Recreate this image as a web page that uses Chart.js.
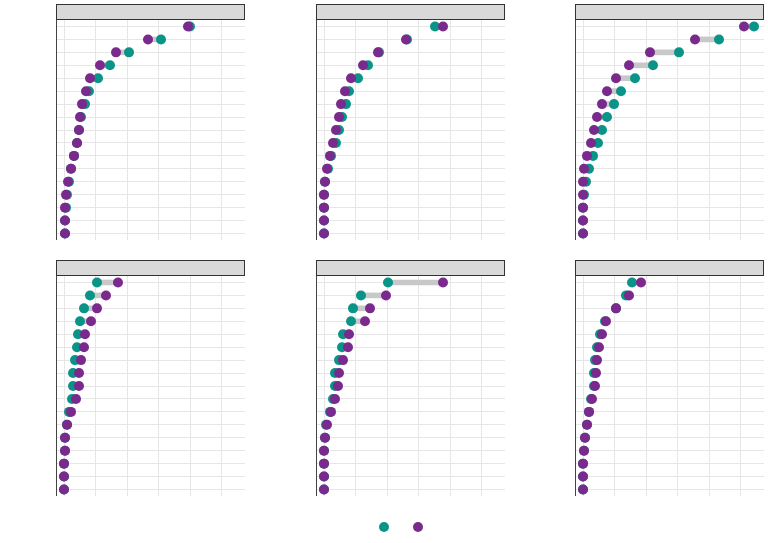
<!DOCTYPE html>
<html><head><meta charset="utf-8">
<script src="https://cdn.jsdelivr.net/npm/chart.js@4/dist/chart.umd.min.js"></script>
<style>
body{margin:0;background:#fff;width:768px;height:543px;position:relative;font-family:"Liberation Sans",sans-serif}
.panel{position:absolute;width:189px;height:236px}
.strip{background:#d9d9d9;border:1px solid #333;box-sizing:border-box;height:16px}
.plot{position:relative;width:189px;height:220px}
.dot{position:absolute;width:10px;height:10px;border-radius:5px}
</style></head><body>
<script>
// horizontal offsets of each dot (px units of the original panel, 0 = first gridline)
const rows = ["r1","r2","r3","r4","r5","r6","r7","r8","r9","r10","r11","r12","r13","r14","r15","r16","r17"];
const teal1 = [126,97,65,46,34,25,21,17,15,13,10,7,5,3,2,1,1];
const purple1 = [124,84,52,36,26,22,18,16,15,13,10,7,4,2,1,1,1];
const teal2 = [111,83,55,44,34,25,22,18,15,12,7,4,1,0,0,0,0];
const purple2 = [119,82,54,39,27,21,17,15,12,9,6,3,1,0,0,0,0];
const teal3 = [171,136,96,70,52,38,31,24,19,15,10,6,3,1,0,0,0];
const purple3 = [161,112,67,46,33,24,19,14,11,8,4,1,0,0,0,0,0];
const teal4 = [33,26,20,16,14,13,11,9,9,8,5,3,1,1,0,0,0];
const purple4 = [54,42,33,27,21,20,17,15,15,12,7,3,1,1,0,0,0];
const teal5 = [64,37,29,27,19,18,15,11,11,9,6,2,1,0,0,0,0];
const purple5 = [119,62,46,41,25,24,19,15,14,11,7,3,1,0,0,0,0];
const teal6 = [49,43,33,22,17,14,12,11,11,8,6,4,2,1,0,0,0];
const purple6 = [58,46,33,23,19,16,14,13,12,9,6,4,2,1,0,0,0];
const gridX = [0,31.5,63,94.5,126,157.5];

const TEAL = "#0a9488", PURPLE = "#7a2a8c";
const panels = [
  [56,4,teal1,purple1],[316,4,teal2,purple2],[575,4,teal3,purple3],
  [56,260,teal4,purple4],[316,260,teal5,purple5],[575,260,teal6,purple6]
];
panels.forEach(([left, top, t, p], i) => {
  const div = document.createElement("div");
  div.className = "panel";
  div.style.left = left + "px"; div.style.top = top + "px";
  div.innerHTML = '<div class="strip"></div><div class="plot"><canvas id="c' + i + '"></canvas></div>';
  document.body.appendChild(div);
  const pts = a => a.map((v, k) => ({x: v, y: rows[k]}));
  new Chart(document.getElementById("c" + i), {
    type: "bar",
    data: {
      labels: rows,
      datasets: [
        {type: "bar", data: t.map((v, k) => [Math.min(v, p[k]), Math.max(v, p[k])]),
         backgroundColor: "#c8c8c8", barThickness: 5, order: 3},
        {type: "line", data: pts(t), showLine: false, pointRadius: 5, pointHoverRadius: 5,
         backgroundColor: TEAL, borderColor: TEAL, borderWidth: 0, order: 2, clip: false},
        {type: "line", data: pts(p), showLine: false, pointRadius: 5, pointHoverRadius: 5,
         backgroundColor: PURPLE, borderColor: PURPLE, borderWidth: 0, order: 1, clip: false}
      ]
    },
    options: {
      indexAxis: "y", responsive: true, maintainAspectRatio: false, animation: false,
      layout: {padding: 0, autoPadding: false},
      plugins: {legend: {display: false}, tooltip: {enabled: false}},
      scales: {
        x: {type: "linear", min: -8, max: 181,
            afterBuildTicks: ax => { ax.ticks = gridX.map(v => ({value: v})); },
            ticks: {display: false}, grid: {color: "#e6e6e6", drawTicks: false},
            border: {color: "#444", width: 1}},
        y: {offset: true, ticks: {display: false}, grid: {color: "#e6e6e6", drawTicks: false, offset: false},
            border: {color: "#444", width: 1}}
      }
    }
  });
});
[[379, TEAL], [413, PURPLE]].forEach(([x, c]) => {
  const d = document.createElement("div");
  d.className = "dot"; d.style.left = x + "px"; d.style.top = "522px"; d.style.background = c;
  document.body.appendChild(d);
});
</script>
</body></html>
